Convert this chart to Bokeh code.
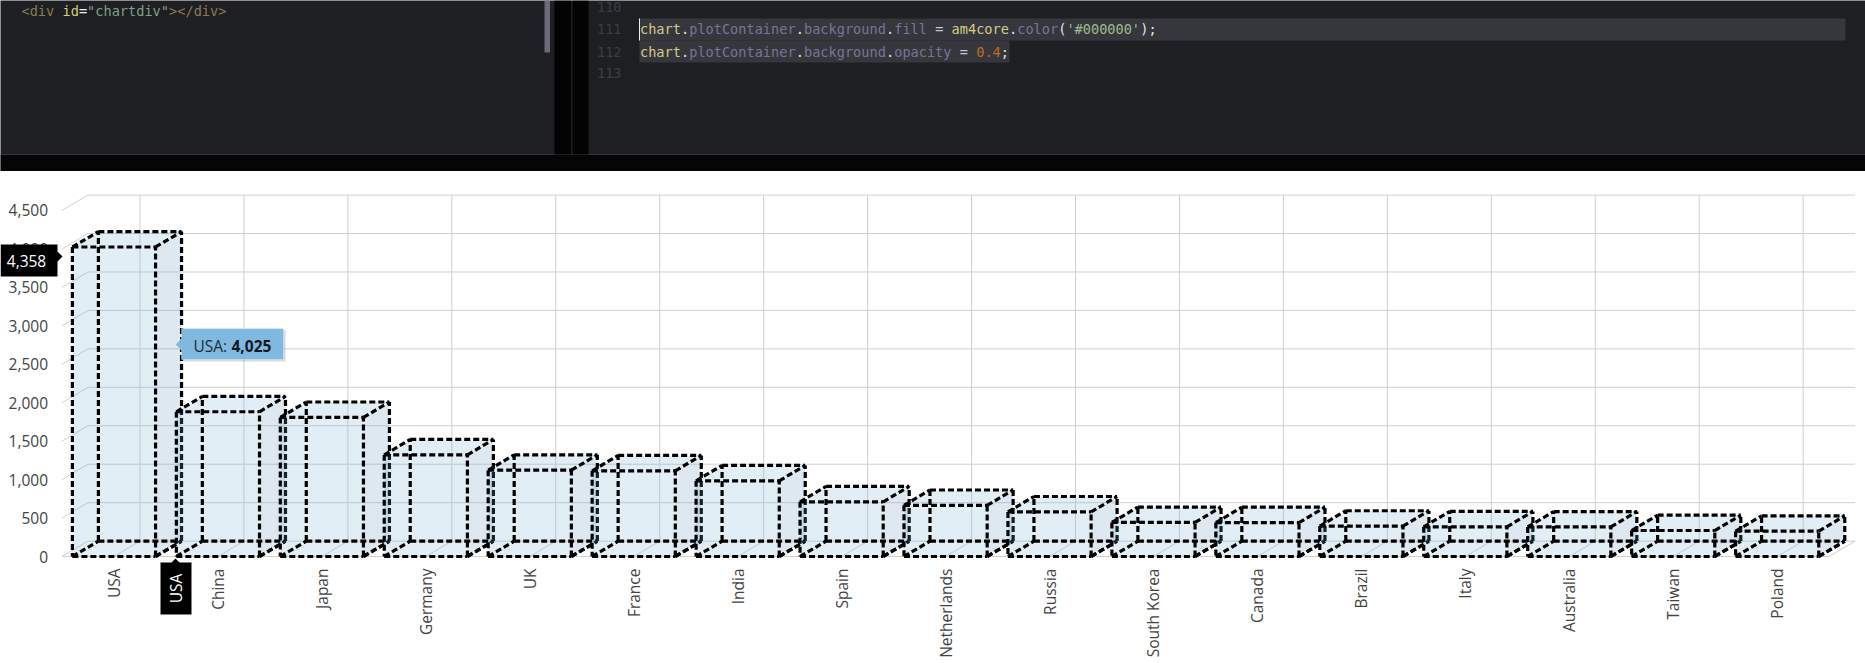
from bokeh.plotting import figure
from bokeh.layouts import column
from bokeh.models import Range1d, FixedTicker, NumeralTickFormatter, PolyAnnotation, Label
from bokeh.core.properties import value
from bokeh.embed import file_html
from bokeh.resources import INLINE

categories = ["USA", "China", "Japan", "Germany", "UK", "France", "India", "Spain", "Netherlands",
              "Russia", "South Korea", "Canada", "Brazil", "Italy", "Australia", "Taiwan", "Poland"]
visits = [4025, 1882, 1809, 1322, 1122, 1114, 984, 711, 665, 580, 443, 441, 395, 386, 384, 338, 329]
y_ticks = [0, 500, 1000, 1500, 2000, 2500, 3000, 3500, 4000, 4500]

# code editor contents: (text, colour) runs per line
C_Y, C_P, C_W, C_G, C_O = "#d3cd86", "#75759a", "#e4e4e4", "#9fb98c", "#c0682a"
line_numbers = [("110", 6), ("111", 28), ("112", 51), ("113", 72)]
code_111 = [("chart", C_Y), (".", C_W), ("plotContainer", C_P), (".", C_W), ("background", C_P), (".", C_W),
            ("fill", C_P), (" = ", "#c8c8c8"), ("am4core", C_Y), (".", C_W), ("color", C_P), ("(", C_W),
            ("'#000000'", C_G), (")", C_W), (";", C_W)]
code_112 = [("chart", C_Y), (".", C_W), ("plotContainer", C_P), (".", C_W), ("background", C_P), (".", C_W),
            ("opacity", C_P), (" = ", "#c8c8c8"), ("0.4", C_O), (";", C_W)]
html_line = [("<div ", "#8f7a4e"), ("id", "#d8c97c"), ("=", "#f0f0f0"), ('"chartdiv"', "#7f9f86"), ("></div>", "#8f7a4e")]

MONO = value("DejaVu Sans Mono")
CH = 8.2
W = 1865
OX, OY = 0, 0
H_TOP = 171
H_CHART = 492

# ---------- editor strip ----------
top = figure(width=W, height=H_TOP, output_backend="svg", toolbar_location=None,
             x_range=Range1d(OX, OX + W), y_range=Range1d(OY + H_TOP, OY),
             min_border=0, background_fill_color="#1e1f23", border_fill_color="#1e1f23", outline_line_color=None)
top.axis.visible = False
top.grid.visible = False
top.quad(left=[0], right=[W], top=[154.5], bottom=[171], fill_color="#050505", line_color=None)
top.segment([0], [154], [W], [154], line_color="#34353a", line_width=1)
top.quad(left=[554, 572], right=[570.5, 588], top=[0, 0], bottom=[154, 154], fill_color="#030303", line_color=None)
top.quad(left=[544], right=[549.5], top=[0], bottom=[52], fill_color="#6a6a78", line_color=None)
top.quad(left=[639, 639], right=[1845, 1009], top=[18, 40], bottom=[40, 62], fill_color="#36373c", line_color=None)
top.segment([639], [18], [639], [40], line_color="#f0f0f0", line_width=1)


def runs(fig, parts, x0, y):
    n = 0
    for txt, col in parts:
        lead = len(txt) - len(txt.lstrip())
        fig.text([x0 + (n + lead) * CH], [y], text=[txt.strip()], text_color=col, text_font=MONO,
                 text_font_size="13.6px", text_baseline="middle", text_align="left")
        n += len(txt)


runs(top, html_line, 21, 10)
runs(top, code_111, 639.5, 28)
runs(top, code_112, 639.5, 51)
for num, y in line_numbers:
    runs(top, [(num, "#3c3d43")], 596.5, y)

# ---------- chart ----------
DX, DV = 0.25, 200          # depth of the 3D effect in axis units
N = len(categories)
PX_CAT = 103.95             # pixels per category
PX_VAL = 0.0769             # pixels per unit
X_ZERO, Y_ZERO = 61.5, 556  # page position of the axes' origin
CY = OY + H_TOP

p = figure(width=W, height=H_CHART, output_backend="svg", toolbar_location=None,
           x_range=Range1d((OX - X_ZERO) / PX_CAT, (OX + W - X_ZERO) / PX_CAT),
           y_range=Range1d(-(CY + H_CHART - Y_ZERO) / PX_VAL, (Y_ZERO - CY) / PX_VAL),
           min_border=0, background_fill_color="white", border_fill_color="white", outline_line_color=None)
p.grid.visible = False
for ax in (p.xaxis[0], p.yaxis[0]):
    ax.fixed_location = 0
    ax.axis_line_color = None
    ax.major_tick_line_color = None
    ax.minor_tick_line_color = None
    ax.major_label_text_font = "Open Sans"
    ax.major_label_text_color = "#444444"
p.yaxis[0].major_label_text_font_size = "15.5px"
p.xaxis[0].major_label_text_font_size = "15.5px"
p.yaxis[0].ticker = FixedTicker(ticks=y_ticks)
p.yaxis[0].formatter = NumeralTickFormatter(format="0,0")
p.yaxis[0].major_label_standoff = 8
p.xaxis[0].ticker = FixedTicker(ticks=[i + 0.5 for i in range(N)])
p.xaxis[0].major_label_overrides = {i + 0.5: c for i, c in enumerate(categories)}
p.xaxis[0].major_label_orientation = 3.14159265 / 2
p.xaxis[0].major_label_standoff = 6

GRID = "#d0d0d4"
# back wall and left wall lines
p.segment([DX] * len(y_ticks), [v + DV for v in y_ticks], [N + DX] * len(y_ticks), [v + DV for v in y_ticks],
          line_color=GRID, line_width=1)
p.segment([0] * len(y_ticks), y_ticks, [DX] * len(y_ticks), [v + DV for v in y_ticks], line_color=GRID, line_width=1)
# vertical grid and floor
cx = [i + 0.5 for i in range(N)]
p.segment([c + DX for c in cx], [DV] * N, [c + DX for c in cx], [y_ticks[-1] + DV] * N, line_color=GRID, line_width=1)
p.segment(cx, [0] * N, [c + DX for c in cx], [DV] * N, line_color=GRID, line_width=1)
p.segment([0, N], [0, 0], [N, N + DX], [0, DV], line_color=GRID, line_width=1)

# bars
W_BAR = 0.8
for i, v in enumerate(visits):
    x0 = i + 0.5 - W_BAR / 2
    x1 = i + 0.5 + W_BAR / 2
    p.patch([x0, x1, x1 + DX, x1 + DX, x0 + DX, x0], [0, 0, DV, v + DV, v + DV, v],
            fill_color="#6fa8cc", fill_alpha=0.2, line_color=None)
    p.patch([x1, x1 + DX, x1 + DX, x1], [0, DV, v + DV, v], fill_color="#8a80b0", fill_alpha=0.05, line_color=None)
    # the twelve edges of the box
    xs0 = [x0 + DX, x0 + DX, x0 + DX, x0, x1, x0, x0, x1, x0, x0, x1, x1]
    ys0 = [DV, DV, v + DV, 0, 0, v, 0, 0, v, v, v, 0]
    xs1 = [x1 + DX, x0 + DX, x1 + DX, x0 + DX, x1 + DX, x0 + DX, x1, x1, x1, x0, x1 + DX, x1 + DX]
    ys1 = [DV, v + DV, v + DV, DV, DV, v + DV, 0, v, v, 0, v + DV, DV]
    xs0.append(x1 + DX); ys0.append(DV); xs1.append(x1 + DX); ys1.append(v + DV)
    p.segment(xs0, ys0, xs1, ys1, line_color="black", line_width=3.2, line_dash="6 3")


def poly(xs, ys, fill, line=None, alpha=1.0, lw=1):
    p.add_layout(PolyAnnotation(xs=[x - OX for x in xs], ys=[y - CY for y in ys], xs_units="canvas", ys_units="canvas",
                                fill_color=fill, fill_alpha=alpha, line_color=line, line_width=lw, level="overlay"))


def label(x, y, text, color, size, style="normal", align="left", angle=0.0):
    p.add_layout(Label(x=x - OX, y=y - CY, x_units="canvas", y_units="canvas", text=text, text_color=color,
                       text_font="Open Sans", text_font_size=size, text_font_style=style, text_align=align,
                       text_baseline="middle", angle=angle, level="overlay"))


# value cursor tag
poly([0, 57, 57, 62, 57, 57, 0], [244, 244, 251, 256, 261, 276, 276], "#000000")
label(26, 260, "4,358", "white", "15.5px", align="center")
# category cursor tag
poly([160, 171, 175, 179, 191, 191, 160], [562, 562, 558, 562, 562, 614, 614], "#000000")
label(175.5, 588, "USA", "white", "15.5px", align="center", angle=3.14159265 / 2)
# tooltip
poly([183, 285, 285, 183], [330, 330, 361, 361], "#000000", alpha=0.15)
poly([181, 283, 283, 181, 181, 175, 181], [328, 328, 359, 359, 350, 344, 338], "#7fb9e0", line="white", lw=1)
label(193, 345, "USA:", "#1f2a33", "15.5px")
label(231, 345, "4,025", "#10181f", "15.5px", style="bold")

page = column(top, p, spacing=0)
open("out.html", "w").write(file_html(page, INLINE))
